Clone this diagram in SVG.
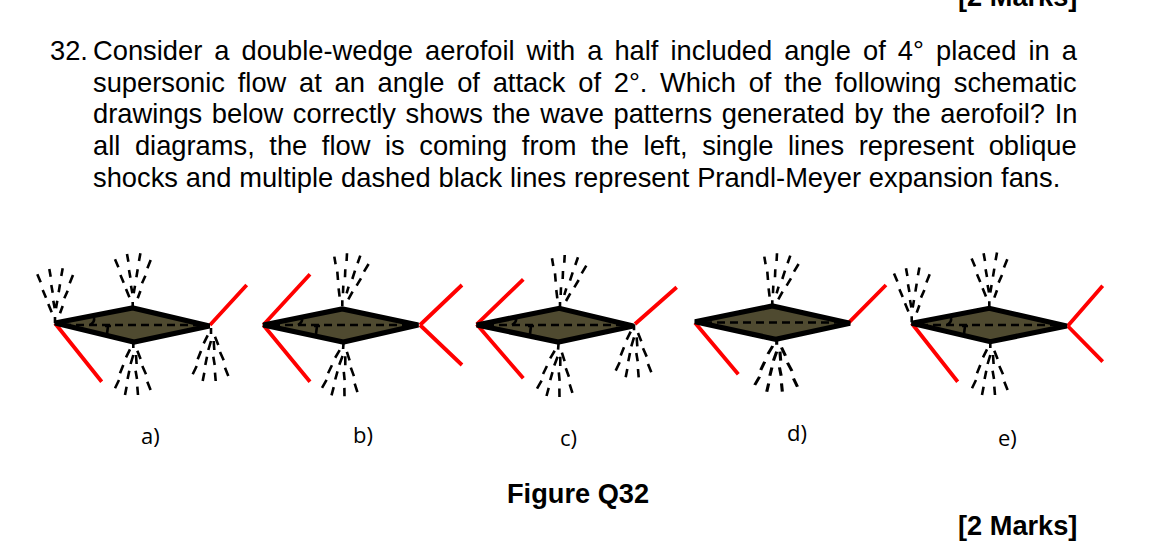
<svg xmlns="http://www.w3.org/2000/svg" width="1166" height="547" viewBox="0 0 1166 547">
<style>
text{font-family:"Liberation Sans",Arial,sans-serif;fill:#000}
.q{font-size:27.3px}
.b{font-size:27.2px;font-weight:bold}
.l{font-family:"Open Sans","Noto Sans",sans-serif;font-size:22px}
.foil{fill:#4f4a30;stroke:#000;stroke-width:5.2;stroke-linejoin:miter}
.ctr{fill:none;stroke:#000;stroke-width:2.4;stroke-dasharray:8 5}
.mk{fill:none;stroke:#000;stroke-width:2.6}
.shock{fill:none;stroke:#f00;stroke-width:3.8}
.fan{fill:none;stroke:#000;stroke-width:2.6}
</style>
<defs>
<path id="upA" class="fan" d="M-17.700-45.700L-14.300-37.700M-12.300-30L-9-22.300M-6.700-16L-3.300-7.700M-5.700-51L-4.300-43.300M-3.700-35L-2.300-27.300M-1.700-19.300L-.3-11.700M7.700-51.700L6.300-44M5-35.700L3.700-27.700M2.300-19.300L1-11.700M18-45L14.700-36.700M12.700-29.300L9.300-21.700M7.700-14L5-6.700M0-3L0 3"/>
<path id="upB" class="fan" d="M-8-46.700L-6.700-39M-5-31.700L-4.300-23.300M-3.700-15L-2.700-6.700M4.700-50L4.300-42.300M3-34L2.700-26M1-17.700L.7-10M18-47.700L15.300-40M12.700-32.700L10-24.300M6.300-16.700L4.300-10M26.300-39.300L21.700-31.700M18.700-25L14.300-17.700M10.300-11.700L6-4M0-3L0 3"/>
<path id="dn" class="fan" d="M-18.300 43.300L-14.300 35M-13.300 28.300L-10 20M-7.300 12.300L-3.300 4.300M-8.300 50L-6.700 41.700M-5.700 34L-4 25.700M-2.700 19L0 10M4.700 50L4 41.700M3.700 34L2.300 25.700M3.300 19L2.700 10M17.300 45L14 36.700M12.700 29.300L9 21M7.300 14L4 5.700M0-3L0 3"/>
</defs>
<g id="question">
<text class="q" x="50" y="60">32.</text>
<text class="q" x="93" y="60" word-spacing="4.46">Consider a double-wedge aerofoil with a half included angle of 4° placed in a</text>
<text class="q" x="93" y="91.500" word-spacing="5.15">supersonic flow at an angle of attack of 2°. Which of the following schematic</text>
<text class="q" x="93" y="123" word-spacing="2.04">drawings below correctly shows the wave patterns generated by the aerofoil? In</text>
<text class="q" x="93" y="155" word-spacing="7">all diagrams, the flow is coming from the left, single lines represent oblique</text>
<text class="q" x="93" y="187" word-spacing="0.25">shocks and multiple dashed black lines represent Prandl-Meyer expansion fans.</text>
<text class="b" x="958" y="6">[2 Marks]</text>
<text class="b" x="507" y="503">Figure Q32</text>
<text class="b" x="958" y="535">[2 Marks]</text>
</g>
<g id="connectors">
<path class="shock" d="M55 323.300L101.700 381.700M210 325L246.700 285"/>
<path class="shock" d="M263.300 325L310 274.300M263.300 325L310 381.700M420 325L462 285M420 325L462 365"/>
<path class="shock" d="M476.700 324.300L523.300 279.300M476.700 324.300L523.300 378.300M635 324L676.700 287.300"/>
<path class="shock" d="M695 322.700L738.300 374.300M849 322.300L886 285"/>
<path class="shock" d="M911.700 323.300L957.700 381.700M1067.700 326L1102.700 285.700M1067.700 326L1102.700 361.700"/>
<use href="#upA" x="55" y="320"/>
<use href="#upA" x="132.700" y="305"/>
<use href="#dn" x="133.300" y="345"/>
<use href="#dn" x="211" y="331"/>
<use href="#upB" x="342.300" y="303.300"/>
<use href="#dn" transform="translate(343.300 346) rotate(4)"/>
<use href="#upB" x="560" y="305"/>
<use href="#dn" transform="translate(558.300 346.700) rotate(4)"/>
<use href="#dn" x="634" y="327.300"/>
<use href="#upB" x="772.300" y="303.300"/>
<use href="#dn" transform="translate(776.700 341.700) scale(1.2 1)"/>
<use href="#upA" x="911.700" y="319.300"/>
<use href="#upA" x="989.300" y="304.300"/>
<use href="#dn" x="990.300" y="345"/>
</g>
<g id="aerofoil-a">
<polygon class="foil" points="55,323 132.700,308 209.500,326 134,342"/>
<path class="ctr" d="M63 325H200"/><path class="mk" d="M90 325Q95 322 94 318M105 326H111M108 326L107 334"/>
<text class="l" x="141" y="444">a)</text>
</g>
<g id="aerofoil-b">
<polygon class="foil" points="263.300,325 342.300,309 418.300,325 343.300,342"/>
<path class="ctr" d="M272 325H410"/><path class="mk" d="M298 325Q303 322 302 318M314 326H320M317 326L316 334"/>
<text class="l" x="353" y="443">b)</text>
</g>
<g id="aerofoil-c">
<polygon class="foil" points="476.700,325 559.300,308.300 633.300,326 558.300,342"/>
<path class="ctr" d="M486 325H625"/><path class="mk" d="M512 325Q517 322 516 318M528 326H534M531 326L530 334"/>
<text class="l" x="560" y="446">c)</text>
</g>
<g id="aerofoil-d">
<polygon class="foil" points="695,321.700 772.300,306 850,323.300 775.700,339.300"/>
<path class="ctr" d="M704 322.500H842"/>
<text class="l" x="787" y="441">d)</text>
</g>
<g id="aerofoil-e">
<polygon class="foil" points="911.700,323.300 989.300,308.300 1066.700,326 990.300,341.700"/>
<path class="ctr" d="M920 325H1058"/><path class="mk" d="M947 325Q952 322 951 318M962 326H968M965 326L964 334"/>
<text class="l" x="998" y="446">e)</text>
</g>
</svg>
